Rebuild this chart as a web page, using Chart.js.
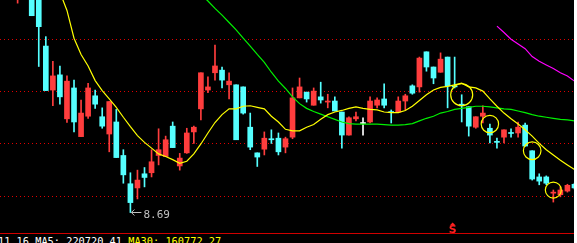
<!DOCTYPE html>
<html><head><meta charset="utf-8">
<script src="https://cdn.jsdelivr.net/npm/chart.js@4.4.1/dist/chart.umd.min.js"></script>
<style>
html,body{margin:0;padding:0;background:#fff;overflow:hidden;}
#wrap{position:absolute;left:0;top:0;width:574px;height:243px;background:#000;overflow:hidden;}
#c{position:absolute;left:0;top:0;}
#info{position:absolute;left:-2px;top:235px;font-family:'DejaVu Sans Mono',monospace;font-size:10.3px;color:#fff;white-space:pre;line-height:12px;}
#info span{color:#ffff00;}
</style></head><body>
<div id="wrap"><canvas id="c" width="578" height="234"></canvas>
<div id="info">11.16 MA5: 220720.41 <span>MA30: 160772.27</span></div></div>
<script>
// ---- data (one entry per trading day, left to right) ----
const days = Array.from({length: 82}, (_, i) => 'D' + (i + 1));
const opens = [null,null,12.80,null,12.92,12.85,11.87,11.03,11.32,10.48,11.07,10.14,10.53,10.92,10.52,10.19,10.42,9.78,9.24,9.16,9.43,9.45,9.78,9.76,10.34,9.58,9.83,10.23,10.67,11.03,11.36,11.41,11.13,11.13,11.09,10.32,9.83,9.90,10.10,10.11,9.94,10.13,10.88,10.99,10.74,10.90,10.80,10.82,10.61,10.17,10.48,10.39,10.42,10.74,10.86,10.61,10.61,10.82,11.11,11.09,11.76,11.47,11.37,11.66,11.11,10.76,10.71,10.32,10.53,10.30,10.05,10.13,10.21,10.21,10.36,9.87,9.37,9.37,9.06,9.03,9.10,9.23];
const highs = [null,null,13.00,null,12.95,12.88,12.05,11.58,11.49,11.30,11.22,10.84,11.16,11.03,10.69,10.81,10.66,9.89,9.45,9.50,9.55,9.89,10.29,10.15,10.42,9.82,10.30,10.34,11.36,11.28,11.89,11.47,11.36,11.13,11.09,10.59,9.83,10.23,10.27,10.21,10.13,11.07,11.26,10.99,11.07,11.18,10.95,10.90,10.61,10.52,10.61,10.50,10.90,10.88,11.15,10.65,10.90,10.95,11.13,11.66,11.76,11.47,11.74,11.66,11.66,10.94,10.71,10.52,10.73,10.38,10.11,10.27,10.29,10.42,10.40,9.87,9.43,9.39,9.12,9.18,9.23,9.25];
const lows = [null,null,12.69,null,12.45,11.48,11.02,10.73,10.76,10.41,10.23,10.14,10.49,10.68,10.30,9.85,9.74,9.25,8.69,8.95,9.18,9.37,9.60,9.76,9.93,9.50,9.82,10.01,10.46,10.98,11.22,11.07,10.86,10.08,10.57,9.89,9.57,9.79,10.01,9.79,9.83,10.10,10.88,10.80,10.74,10.78,10.69,10.63,9.92,10.17,10.44,10.17,10.40,10.69,10.69,10.40,10.61,10.65,10.95,10.99,11.39,11.15,11.37,10.69,11.07,10.42,10.15,10.30,10.40,10.02,9.92,10.02,10.13,10.13,9.96,9.31,9.22,9.22,8.89,8.99,9.08,9.14];
const closes = [null,null,12.95,null,12.45,12.24,11.02,11.30,10.90,11.20,10.42,10.59,11.07,10.76,10.34,10.81,9.74,9.41,8.88,9.31,9.36,9.66,9.89,10.08,9.93,9.73,10.21,10.32,11.36,11.09,11.49,11.22,11.20,10.08,10.59,9.94,9.75,10.11,10.08,9.85,10.10,10.88,11.09,10.86,11.01,10.84,10.82,10.63,10.17,10.50,10.52,10.39,10.82,10.84,10.74,10.60,10.82,10.92,10.97,11.64,11.47,11.26,11.62,11.11,11.09,10.73,10.34,10.52,10.59,10.17,10.03,10.27,10.20,10.32,9.96,9.33,9.29,9.25,9.08,9.12,9.21,9.16];
const maYellow = [null,null,null,null,null,null,null,null,12.90,12.55,12.02,11.71,11.49,11.21,11.02,10.86,10.70,10.51,10.33,10.16,10.03,9.92,9.81,9.76,9.70,9.63,9.67,9.81,10.00,10.21,10.41,10.56,10.67,10.67,10.72,10.73,10.70,10.67,10.53,10.42,10.28,10.25,10.25,10.32,10.37,10.47,10.56,10.61,10.64,10.68,10.71,10.68,10.66,10.65,10.61,10.60,10.60,10.64,10.72,10.83,10.94,11.03,11.08,11.10,11.13,11.16,11.09,11.07,11.01,10.86,10.72,10.59,10.48,10.38,10.27,10.15,10.01,9.89,9.79,9.69,9.60,9.51];
const maGreen = [null,null,null,null,null,null,null,null,null,null,null,null,null,null,null,null,null,null,null,null,null,null,null,null,null,null,null,null,12.86,12.73,12.59,12.46,12.32,12.18,12.02,11.87,11.71,11.56,11.37,11.20,11.06,10.90,10.77,10.68,10.62,10.57,10.52,10.47,10.42,10.39,10.38,10.38,10.38,10.38,10.37,10.36,10.36,10.37,10.39,10.44,10.49,10.53,10.59,10.62,10.66,10.68,10.70,10.72,10.72,10.71,10.69,10.67,10.66,10.63,10.60,10.56,10.53,10.51,10.49,10.47,10.46,10.44];
const maMagenta = [null,null,null,null,null,null,null,null,null,null,null,null,null,null,null,null,null,null,null,null,null,null,null,null,null,null,null,null,null,null,null,null,null,null,null,null,null,null,null,null,null,null,null,null,null,null,null,null,null,null,null,null,null,null,null,null,null,null,null,null,null,null,null,null,null,null,null,null,null,null,12.25,12.13,12.00,11.91,11.82,11.67,11.58,11.51,11.44,11.36,11.30,11.20];
const circleDays = [65, 69, 75, 78];     // days marked with a yellow ring at their high
const circleRadii = [11, 8.7, 8.8, 8];
const sellDay = 64;                      // day of the red "S" signal
const gridLevels = [9, 10, 11, 12];

// ---- derived tables ----
const RED = '#ff3d3d', CYAN = '#55ffff', WHITE = '#ffffff';
const candleColor = opens.map((o, i) => o == null ? 'rgba(0,0,0,0)' : (closes[i] > o ? RED : (closes[i] < o ? CYAN : WHITE)));
const wickData = lows.map((l, i) => l == null ? null : [l, highs[i]]);
const bodyData = opens.map((o, i) => o == null ? null : [Math.min(o, closes[i]), Math.max(o, closes[i])]);
const circleData = days.map((_, i) => circleDays.includes(i) ? highs[i] : null);
const circleR = days.map((_, i) => { const k = circleDays.indexOf(i); return k < 0 ? 0 : circleRadii[k]; });
let lowDay = 0; lows.forEach((l, i) => { if (l != null && l < lows[lowDay] || lows[lowDay] == null) lowDay = i; });

const overlay = {
  id: 'overlay',
  afterDatasetsDraw(chart) {
    const {ctx, chartArea, scales: {x, y}} = chart;
    ctx.save();
    // bottom red rule
    ctx.strokeStyle = '#d00000'; ctx.lineWidth = 1;
    ctx.beginPath(); ctx.moveTo(chartArea.left, chartArea.bottom - 0.5); ctx.lineTo(chartArea.right, chartArea.bottom - 0.5); ctx.stroke();
    // lowest-low marker
    const lx = x.getPixelForValue(lowDay), ly = Math.round(y.getPixelForValue(lows[lowDay])) - 0.5;
    ctx.strokeStyle = '#c0c0c0';
    ctx.beginPath();
    ctx.moveTo(lx + 1, ly); ctx.lineTo(lx + 11, ly);
    ctx.moveTo(lx + 1, ly); ctx.lineTo(lx + 4, ly - 3);
    ctx.moveTo(lx + 1, ly); ctx.lineTo(lx + 4, ly + 3);
    ctx.stroke();
    ctx.fillStyle = '#c0c0c0';
    ctx.font = "11px 'DejaVu Sans Mono'";
    ctx.textBaseline = 'alphabetic'; ctx.textAlign = 'left';
    ctx.fillText(lows[lowDay].toFixed(2), lx + 13, ly + 5);
    // sell signal
    const sx = x.getPixelForValue(sellDay) - 2;
    ctx.fillStyle = '#ff2020';
    ctx.beginPath(); ctx.moveTo(sx, chartArea.bottom - 11.5); ctx.lineTo(sx - 3, chartArea.bottom - 8.5); ctx.lineTo(sx + 3, chartArea.bottom - 8.5); ctx.closePath(); ctx.fill();
    ctx.font = "bold 11px 'DejaVu Sans'";
    ctx.textAlign = 'center';
    ctx.fillText('S', sx, chartArea.bottom - 1);
    ctx.restore();
  }
};

new Chart(document.getElementById('c'), {
  type: 'bar',
  data: {
    labels: days,
    datasets: [
      {type: 'line', data: circleData, showLine: false, pointRadius: circleR, pointHoverRadius: circleR, pointStyle: 'circle',
       pointBorderColor: '#ffff00', pointBackgroundColor: 'rgba(0,0,0,0)', pointBorderWidth: 1.2, order: 0},
      {type: 'line', data: maYellow, borderColor: '#ffff00', borderWidth: 1.2, pointRadius: 0, tension: 0, fill: false, order: 1},
      {type: 'line', data: maGreen, borderColor: '#00f000', borderWidth: 1.2, pointRadius: 0, tension: 0, fill: false, order: 1},
      {type: 'line', data: maMagenta, borderColor: '#ff00ff', borderWidth: 1.2, pointRadius: 0, tension: 0, fill: false, order: 1},
      {type: 'bar', data: bodyData, backgroundColor: candleColor, barThickness: 5, minBarLength: 1, grouped: false, order: 3},
      {type: 'bar', data: wickData, backgroundColor: candleColor, barThickness: 1, grouped: false, order: 4}
    ]
  },
  options: {
    responsive: false, animation: false, devicePixelRatio: 1, events: [],
    layout: {padding: 0},
    plugins: {legend: {display: false}, tooltip: {enabled: false}},
    scales: {
      x: {display: false, offset: true},
      y: {min: 8.28, max: 12.75, display: true,
          ticks: {display: false}, grid: {color: '#e00000', drawTicks: false, lineWidth: 1},
          border: {display: false, dash: [1, 3]},
          afterBuildTicks: s => { s.ticks = gridLevels.map(v => ({value: v})); }}
    }
  },
  plugins: [overlay]
});
</script>
</body></html>
